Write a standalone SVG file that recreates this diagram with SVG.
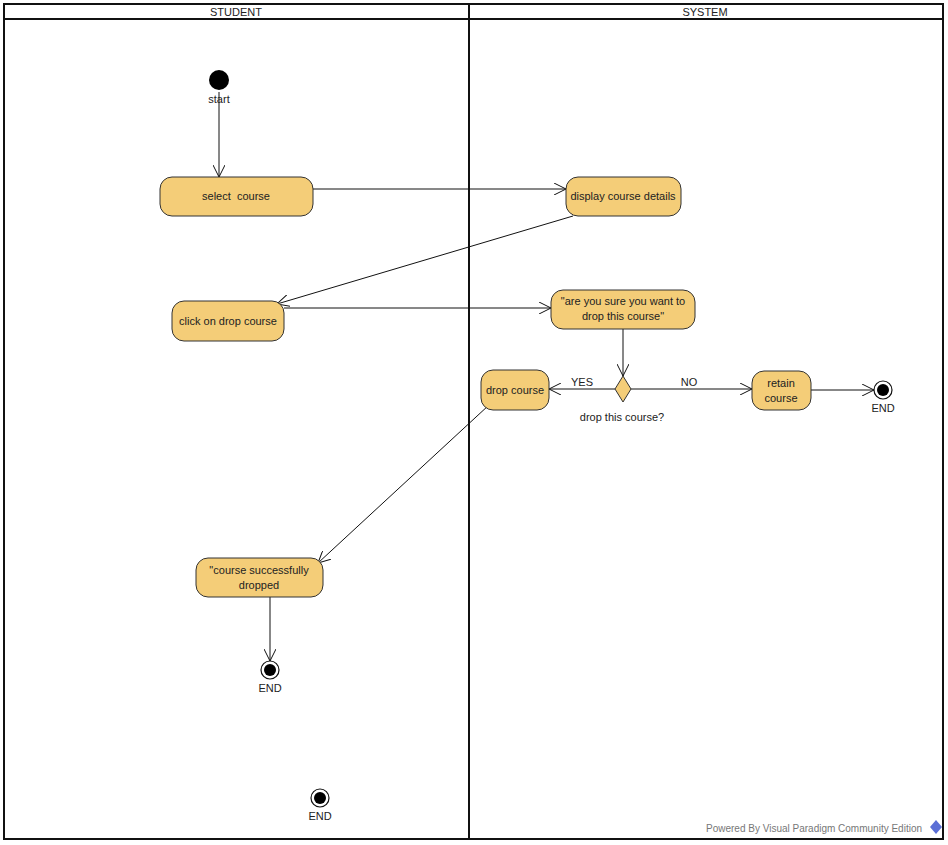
<svg xmlns="http://www.w3.org/2000/svg" width="948" height="845" viewBox="0 0 948 845">
<style>
text{font-family:"Liberation Sans",Arial,sans-serif;font-size:11px;fill:#222;text-anchor:middle}
.act{fill:#f4cd78;stroke:#333;stroke-width:1}
.c{stroke:#111;stroke-width:1;fill:none;marker-end:url(#a)}
.end{fill:#fff;stroke:#111;stroke-width:1.2}
</style>
<defs><marker id="a" markerWidth="14" markerHeight="12" refX="12" refY="6" orient="auto" markerUnits="userSpaceOnUse"><path d="M0,0 L12,6 L0,12" fill="none" stroke="#111" stroke-width="1"/></marker></defs>
<rect width="948" height="845" fill="#fff"/>
<g id="lanes" fill="none" stroke="#111" stroke-width="2">
<rect x="4" y="4" width="939" height="835"/>
<line x1="4" y1="19" x2="943" y2="19"/>
<line x1="469" y1="4" x2="469" y2="839"/>
</g>
<text x="236" y="16">STUDENT</text>
<text x="705" y="16">SYSTEM</text>
<g id="connectors">
<line class="c" x1="219" y1="92" x2="219" y2="177"/>
<line class="c" x1="313" y1="189" x2="566" y2="189"/>
<line class="c" x1="573" y1="216" x2="277" y2="304"/>
<line class="c" x1="284" y1="308" x2="551" y2="308"/>
<line class="c" x1="623" y1="329" x2="623" y2="376"/>
<line class="c" x1="615" y1="389" x2="549" y2="389"/>
<line class="c" x1="631" y1="389" x2="752" y2="389"/>
<line class="c" x1="811" y1="390" x2="874" y2="390"/>
<line class="c" x1="489" y1="405" x2="318" y2="563"/>
<line class="c" x1="270" y1="597" x2="270" y2="661"/>
<text x="582" y="386">YES</text>
<text x="689" y="386">NO</text>
</g>
<g id="start"><circle cx="219" cy="80" r="10" fill="#000"/><text x="219" y="103">start</text></g>
<g id="select"><rect class="act" x="160" y="177" width="153" height="39" rx="12"/><text x="236" y="200" xml:space="preserve">select  course</text></g>
<g id="display"><rect class="act" x="566" y="177" width="115" height="39" rx="12"/><text x="623" y="200">display course details</text></g>
<g id="click"><rect class="act" x="172" y="301" width="112" height="40" rx="12"/><text x="228" y="325">click on drop course</text></g>
<g id="sure"><rect class="act" x="551" y="290" width="144" height="39" rx="12"/><text x="623" y="305">"are you sure you want to</text><text x="623" y="320">drop this course"</text></g>
<g id="decision"><polygon points="623,376 631,389 623,402 615,389" fill="#f4cd78" stroke="#333"/><text x="622" y="421">drop this course?</text></g>
<g id="drop"><rect class="act" x="481" y="370" width="68" height="40" rx="12"/><text x="515" y="394">drop course</text></g>
<g id="retain"><rect class="act" x="752" y="371" width="59" height="39" rx="12"/><text x="781" y="387">retain</text><text x="781" y="402">course</text></g>
<g id="end1"><circle class="end" cx="883" cy="390" r="9"/><circle cx="883" cy="390" r="6" fill="#000"/><text x="883" y="412">END</text></g>
<g id="dropped"><rect class="act" x="196" y="558" width="127" height="39" rx="12"/><text x="259" y="574">"course successfully</text><text x="259" y="589">dropped</text></g>
<g id="end2"><circle class="end" cx="270" cy="670" r="9"/><circle cx="270" cy="670" r="6" fill="#000"/><text x="270" y="692">END</text></g>
<g id="end3"><circle class="end" cx="320" cy="798" r="9"/><circle cx="320" cy="798" r="6" fill="#000"/><text x="320" y="820">END</text></g>
<text x="814" y="832" style="font-size:10px;fill:#777">Powered By Visual Paradigm Community Edition</text>
<polygon points="936,820 942,827 936,834 930,827" fill="#5b6fd6"/>
</svg>
